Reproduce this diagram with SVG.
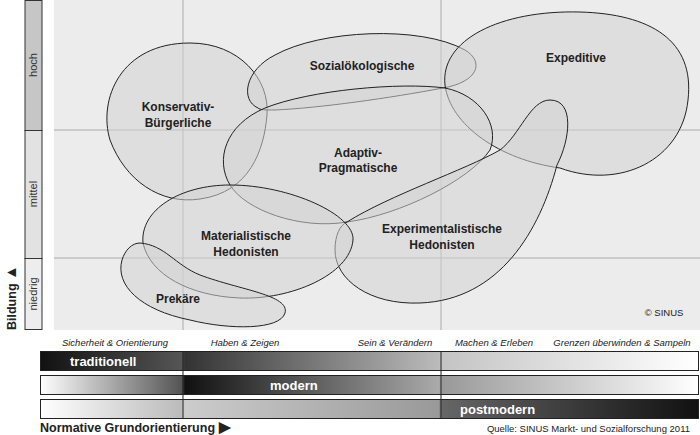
<svg xmlns="http://www.w3.org/2000/svg" width="700" height="435" viewBox="0 0 700 435">
<style>
.b{font-family:"Liberation Sans",Arial,sans-serif;font-weight:bold;font-size:12px;fill:#222;text-anchor:middle}
.s{fill:#d4d4d4;fill-opacity:.55;stroke:#222;stroke-width:1}
.g{stroke:#aaa;stroke-width:1}
.ax{font-family:"Liberation Sans",Arial,sans-serif;font-size:11px;fill:#333;text-anchor:middle}
.it{font-family:"Liberation Sans",Arial,sans-serif;font-style:italic;font-size:9.5px;fill:#222;text-anchor:middle}
.w{font-family:"Liberation Sans",Arial,sans-serif;font-weight:bold;font-size:13px;fill:#fff}
.bar{stroke:#222;stroke-width:1}
</style>
<defs>
<linearGradient id="g1" x1="40" x2="699" gradientUnits="userSpaceOnUse"><stop offset="0" stop-color="#111"/><stop offset="0.215" stop-color="#555"/><stop offset="0.22" stop-color="#333"/><stop offset="0.605" stop-color="#bbb"/><stop offset="0.61" stop-color="#c4c4c4"/><stop offset="1" stop-color="#fff"/></linearGradient>
<linearGradient id="g2" x1="40" x2="699" gradientUnits="userSpaceOnUse"><stop offset="0" stop-color="#fff"/><stop offset="0.215" stop-color="#555"/><stop offset="0.22" stop-color="#111"/><stop offset="0.605" stop-color="#aaa"/><stop offset="0.61" stop-color="#999"/><stop offset="1" stop-color="#fff"/></linearGradient>
<linearGradient id="g3" x1="40" x2="699" gradientUnits="userSpaceOnUse"><stop offset="0" stop-color="#fff"/><stop offset="0.215" stop-color="#bbb"/><stop offset="0.22" stop-color="#ccc"/><stop offset="0.605" stop-color="#999"/><stop offset="0.61" stop-color="#666"/><stop offset="1" stop-color="#111"/></linearGradient>
</defs>
<rect width="700" height="435" fill="#fff"/>
<rect x="54" y="0" width="646" height="330" fill="#ececec"/>
<g id="grid">
<line class="g" x1="183" y1="0" x2="183" y2="330"/>
<line class="g" x1="441" y1="0" x2="441" y2="330"/>
<line class="g" x1="54" y1="130" x2="700" y2="130"/>
<line class="g" x1="54" y1="258" x2="700" y2="258"/>
</g>
<g id="yaxis">
<rect x="25" y="0.5" width="17" height="130" fill="#c6c6c6" stroke="#333"/>
<rect x="25" y="130.5" width="17" height="128" fill="#e2e2e2" stroke="#333"/>
<rect x="25" y="258.5" width="17" height="71" fill="#ededed" stroke="#333"/>
<text class="ax" transform="translate(37,65) rotate(-90)">hoch</text>
<text class="ax" transform="translate(37,194) rotate(-90)">mittel</text>
<text class="ax" transform="translate(37,294) rotate(-90)">niedrig</text>
<text class="b" transform="translate(16,330) rotate(-90)" style="text-anchor:start;font-size:12.5px">Bildung <tspan style="font-size:15px">▲</tspan></text>
</g>
<g id="konservativ"><path class="s" d="M190,43 C240,43 270,80 267,115 C264,150 250,192 200,199 C160,205 125,180 110,140 C98,100 120,43 190,43 Z"/></g>
<g id="sozial"><path class="s" d="M258,108 C240,100 245,70 275,55 C320,30 420,25 465,50 C485,62 478,82 443,88 C390,98 320,108 275,110 C265,110 260,110 258,108 Z"/></g>
<g id="expeditive"><path class="s" d="M445,85 C440,40 500,10 580,12 C650,14 695,40 688,100 C682,160 620,190 560,168 C500,160 450,125 445,85 Z"/></g>
<g id="adaptiv"><path class="s" d="M230,185 C215,160 225,125 265,108 C310,90 400,82 445,88 C480,95 500,125 490,150 C470,180 400,215 347,222 C300,230 245,210 230,185 Z"/></g>
<g id="experimental"><path class="s" d="M347,222 C390,195 465,170 500,150 C520,135 530,100 550,100 C575,100 570,140 557,165 C540,230 500,300 420,303 C370,305 335,280 335,250 C335,235 340,225 347,222 Z"/></g>
<g id="materialistisch"><path class="s" d="M143,243 C140,210 180,185 230,185 C290,185 355,215 353,240 C350,275 290,300 240,298 C190,296 150,275 143,243 Z"/></g>
<g id="prekaere"><path class="s" d="M140,243 C165,245 175,265 200,275 C240,290 290,295 285,313 C280,330 230,330 190,320 C140,310 115,285 122,260 C125,250 132,243 140,243 Z"/></g>
<g id="labels">
<text class="b" x="178" y="111">Konservativ-</text>
<text class="b" x="178" y="127">Bürgerliche</text>
<text class="b" x="362" y="70">Sozialökologische</text>
<text class="b" x="576" y="62">Expeditive</text>
<text class="b" x="358" y="157">Adaptiv-</text>
<text class="b" x="358" y="172">Pragmatische</text>
<text class="b" x="246" y="240">Materialistische</text>
<text class="b" x="246" y="256">Hedonisten</text>
<text class="b" x="442" y="233">Experimentalistische</text>
<text class="b" x="442" y="249">Hedonisten</text>
<text class="b" x="178" y="303">Prekäre</text>
<text class="ax" x="664" y="316" style="font-size:9.5px;fill:#222">© SINUS</text>
</g>
<g id="xaxis">
<text class="it" x="115" y="346">Sicherheit &amp; Orientierung</text>
<text class="it" x="245" y="346">Haben &amp; Zeigen</text>
<text class="it" x="395" y="346">Sein &amp; Verändern</text>
<text class="it" x="494" y="346">Machen &amp; Erleben</text>
<text class="it" x="622" y="346">Grenzen überwinden &amp; Sampeln</text>
<rect class="bar" x="40.5" y="351.5" width="658" height="19" fill="url(#g1)"/>
<rect class="bar" x="40.5" y="375.5" width="658" height="19" fill="url(#g2)"/>
<rect class="bar" x="40.5" y="399.5" width="658" height="19" fill="url(#g3)"/>
<line x1="183" y1="351" x2="183" y2="419" stroke="#222"/>
<line x1="441" y1="351" x2="441" y2="419" stroke="#222"/>
<text class="w" x="70" y="366">traditionell</text>
<text class="w" x="270" y="390">modern</text>
<text class="w" x="460" y="414">postmodern</text>
<text class="b" x="40" y="432" style="text-anchor:start;font-size:12.5px">Normative Grundorientierung <tspan style="font-size:15px">▶</tspan></text>
<text class="ax" x="690" y="432" style="text-anchor:end;font-size:9.5px;fill:#222">Quelle: SINUS Markt- und Sozialforschung 2011</text>
</g>
</svg>
